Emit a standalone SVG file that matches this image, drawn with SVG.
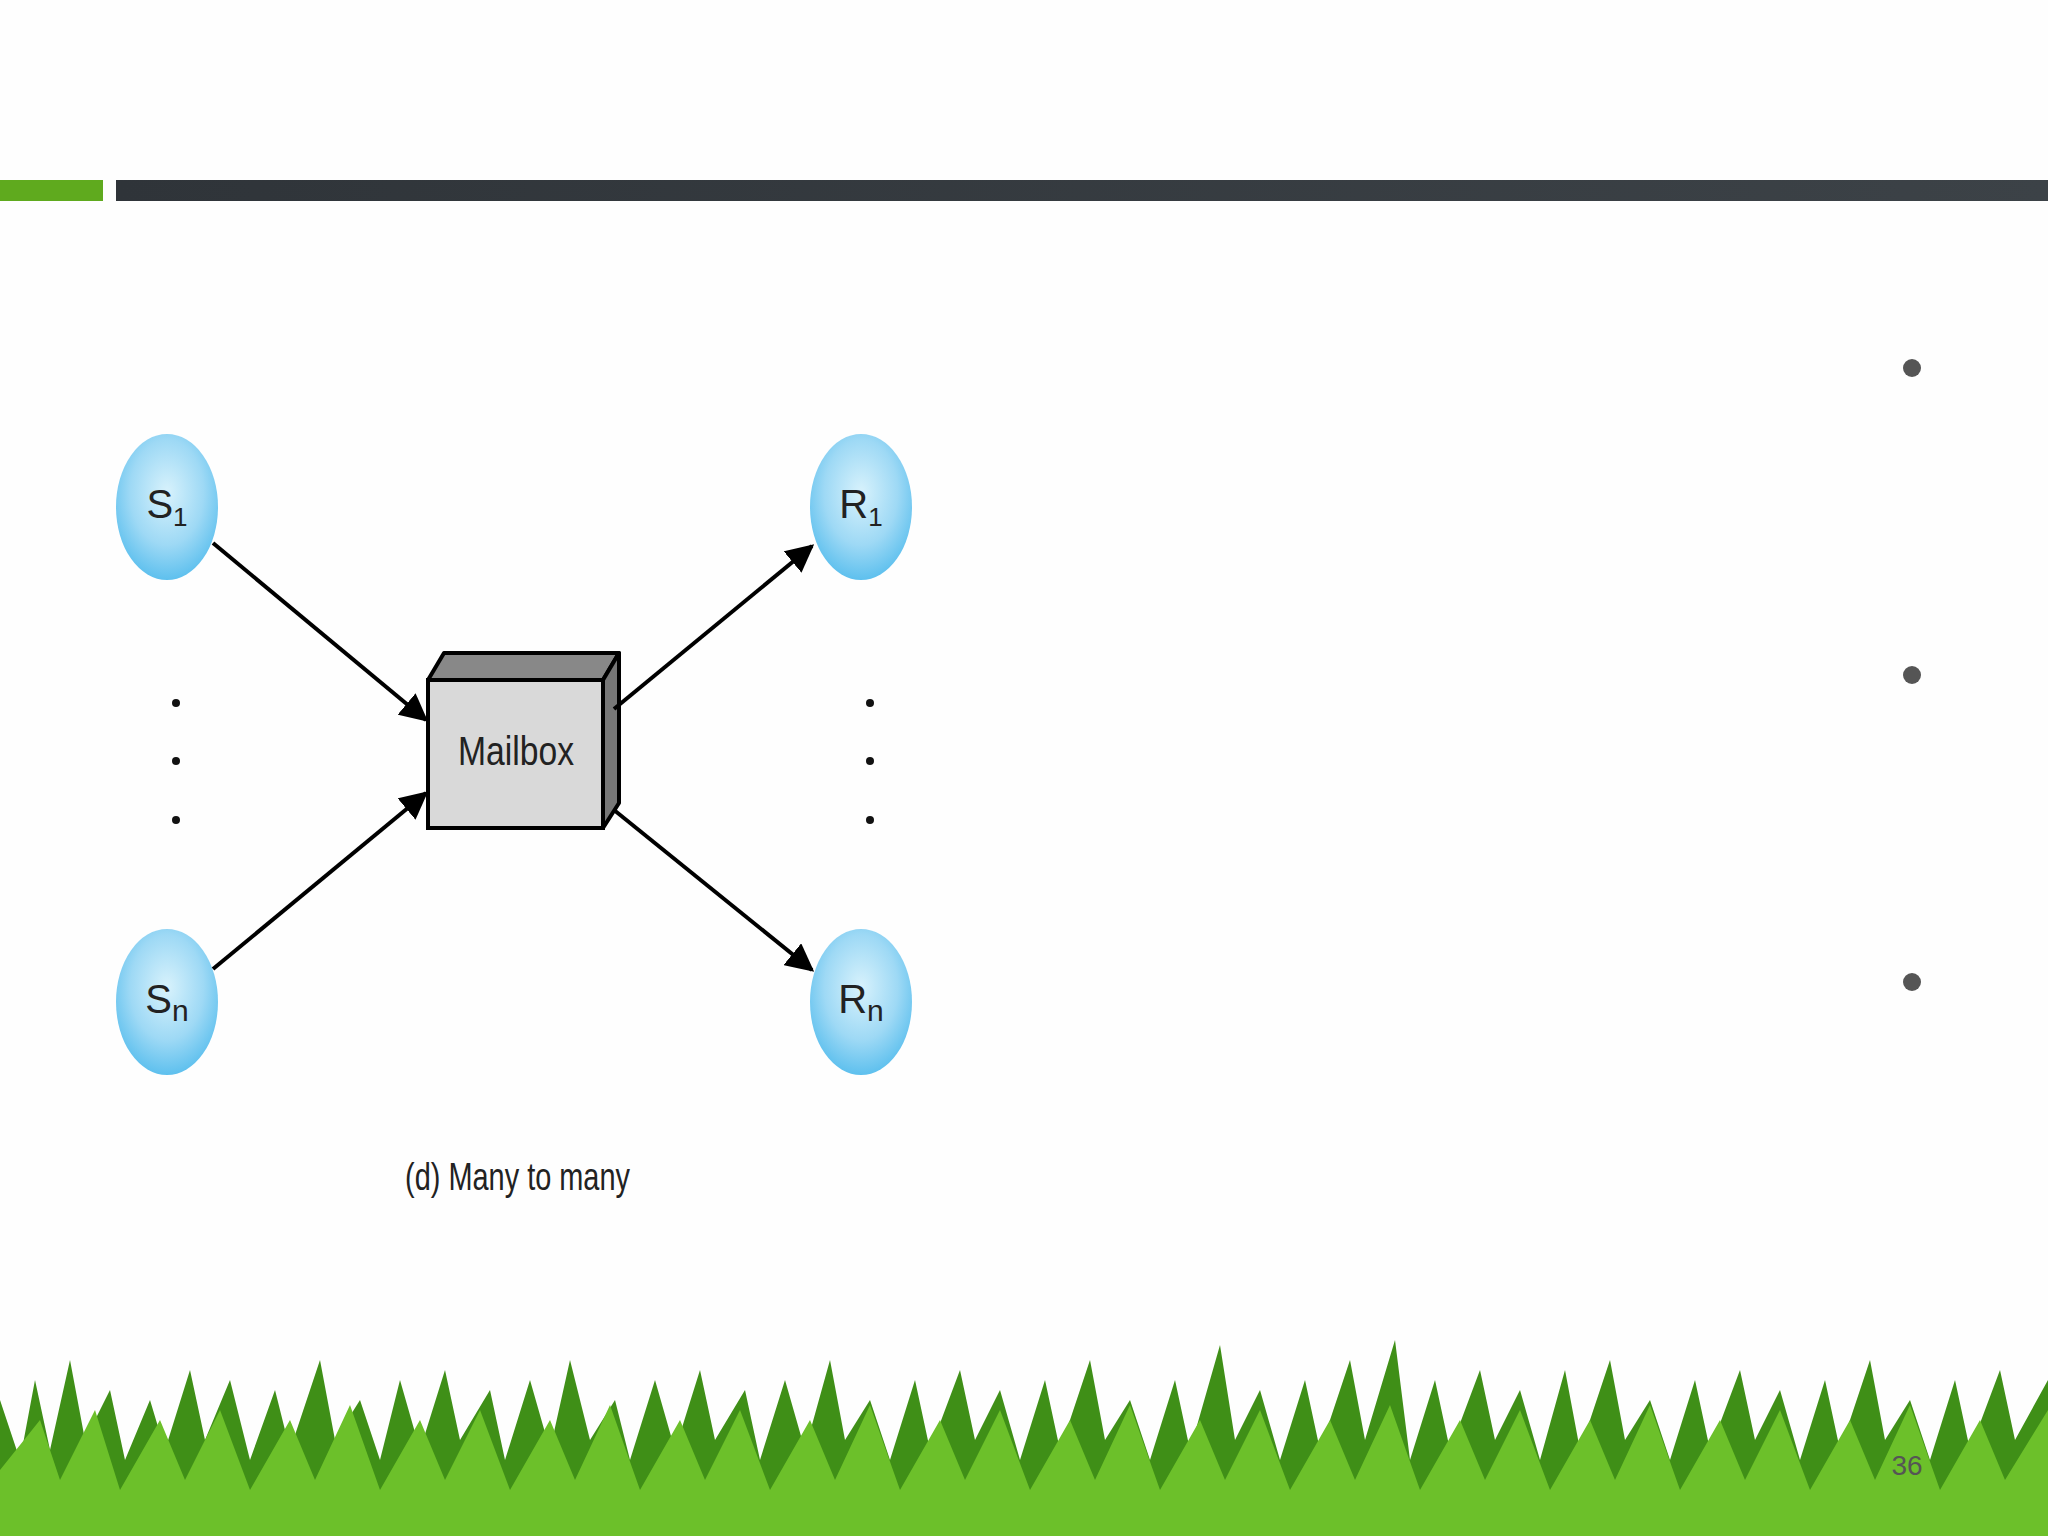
<svg xmlns="http://www.w3.org/2000/svg" width="2048" height="1536" viewBox="0 0 2048 1536">
<defs>
<radialGradient id="ball" cx="0.5" cy="0.4" r="0.6">
<stop offset="0" stop-color="#d8f2fc"/><stop offset="0.6" stop-color="#9ed9f5"/><stop offset="1" stop-color="#5ec0ee"/>
</radialGradient>
<linearGradient id="bar" x1="0" x2="1"><stop offset="0" stop-color="#2f3439"/><stop offset="1" stop-color="#3c4247"/></linearGradient>
<marker id="ah" viewBox="0 0 10 10" refX="9" refY="5" markerWidth="7" markerHeight="7" orient="auto" markerUnits="strokeWidth"><path d="M0,0 L10,5 L0,10 z" fill="#000"/></marker>
<style>
.conn{stroke:#000;stroke-width:4;fill:none;marker-end:url(#ah)}
.lbl{font-family:"Liberation Sans Narrow","Liberation Sans",sans-serif;fill:#222}
.dot{fill:#111}
</style>
</defs>
<rect width="2048" height="1536" fill="#fefefe"/>
<rect x="0" y="180" width="103" height="21" fill="#5faa1e"/>
<rect x="116" y="180" width="1932" height="21" fill="url(#bar)"/>
<g id="S1"><ellipse cx="167" cy="507" rx="51" ry="73" fill="url(#ball)"/><text class="lbl" x="167" y="518" font-size="40" text-anchor="middle">S<tspan font-size="26" dy="8">1</tspan></text></g>
<g id="Sn"><ellipse cx="167" cy="1002" rx="51" ry="73" fill="url(#ball)"/><text class="lbl" x="167" y="1013" font-size="40" text-anchor="middle">S<tspan font-size="30" dy="8">n</tspan></text></g>
<g id="R1"><ellipse cx="861" cy="507" rx="51" ry="73" fill="url(#ball)"/><text class="lbl" x="861" y="518" font-size="40" text-anchor="middle">R<tspan font-size="26" dy="8">1</tspan></text></g>
<g id="Rn"><ellipse cx="861" cy="1002" rx="51" ry="73" fill="url(#ball)"/><text class="lbl" x="861" y="1013" font-size="40" text-anchor="middle">R<tspan font-size="30" dy="8">n</tspan></text></g>
<g id="Mailbox">
<polygon points="428,680 444,653 619,653 603,680" fill="#888" stroke="#000" stroke-width="4" stroke-linejoin="round"/>
<polygon points="603,680 619,653 619,803 603,828" fill="#777" stroke="#000" stroke-width="4" stroke-linejoin="round"/>
<rect x="428" y="680" width="175" height="148" fill="#d9d9d9" stroke="#000" stroke-width="4"/>
<text class="lbl" x="458" y="765" font-size="40" textLength="116" lengthAdjust="spacingAndGlyphs">Mailbox</text>
</g>
<g id="connectors">
<line class="conn" x1="213" y1="543" x2="426" y2="720"/>
<line class="conn" x1="213" y1="969" x2="426" y2="793"/>
<line class="conn" x1="614" y1="709" x2="812" y2="546"/>
<line class="conn" x1="614" y1="810" x2="812" y2="970"/>
</g>
<g id="dots">
<circle class="dot" cx="176" cy="703" r="4"/><circle class="dot" cx="176" cy="761" r="4"/><circle class="dot" cx="176" cy="820" r="4"/>
<circle class="dot" cx="870" cy="703" r="4"/><circle class="dot" cx="870" cy="761" r="4"/><circle class="dot" cx="870" cy="820" r="4"/>
</g>
<text class="lbl" x="405" y="1190" font-size="38" textLength="225" lengthAdjust="spacingAndGlyphs">(d) Many to many</text>
<g fill="#555"><circle cx="1912" cy="368" r="9"/><circle cx="1912" cy="675" r="9"/><circle cx="1912" cy="982" r="9"/></g>
<g id="grass">
<path fill="#3f8f17" d="M0,1536 L0,1400 L20,1460 L35,1380 L50,1450 L70,1360 L85,1440 L110,1390 L125,1460 L150,1400 L165,1450 L190,1370 L205,1440 L230,1380 L250,1460 L275,1390 L290,1450 L320,1360 L335,1440 L360,1400 L380,1460 L400,1380 L420,1450 L445,1370 L460,1440 L490,1390 L505,1460 L530,1380 L550,1450 L570,1360 L590,1440 L615,1400 L630,1460 L655,1380 L675,1450 L700,1370 L715,1440 L745,1390 L760,1460 L785,1380 L805,1450 L830,1360 L845,1440 L870,1400 L890,1460 L915,1380 L930,1450 L960,1370 L975,1440 L1000,1390 L1020,1460 L1045,1380 L1060,1450 L1090,1360 L1105,1440 L1130,1400 L1150,1460 L1175,1380 L1190,1450 L1220,1345 L1235,1440 L1260,1390 L1280,1460 L1305,1380 L1320,1450 L1350,1360 L1365,1440 L1395,1340 L1410,1460 L1435,1380 L1450,1450 L1480,1370 L1495,1440 L1520,1390 L1540,1460 L1565,1370 L1580,1450 L1610,1360 L1625,1440 L1650,1400 L1670,1460 L1695,1380 L1710,1450 L1740,1370 L1755,1440 L1780,1390 L1800,1460 L1825,1380 L1840,1450 L1870,1360 L1885,1440 L1910,1400 L1930,1460 L1955,1380 L1970,1450 L2000,1370 L2015,1440 L2048,1380 L2048,1536 Z"/>
<path fill="#6cc02a" d="M0,1536 L0,1470 L40,1420 L60,1480 L95,1410 L120,1490 L160,1420 L185,1480 L220,1410 L250,1490 L290,1420 L315,1480 L350,1405 L380,1490 L420,1420 L445,1480 L480,1410 L510,1490 L550,1420 L575,1480 L610,1405 L640,1490 L680,1420 L705,1480 L740,1410 L770,1490 L810,1420 L835,1480 L870,1405 L900,1490 L940,1420 L965,1480 L1000,1410 L1030,1490 L1070,1420 L1095,1480 L1130,1405 L1160,1490 L1200,1420 L1225,1480 L1260,1410 L1290,1490 L1330,1420 L1355,1480 L1390,1405 L1420,1490 L1460,1420 L1485,1480 L1520,1410 L1550,1490 L1590,1420 L1615,1480 L1650,1405 L1680,1490 L1720,1420 L1745,1480 L1780,1410 L1810,1490 L1850,1420 L1875,1480 L1910,1405 L1940,1490 L1980,1420 L2005,1480 L2048,1410 L2048,1536 Z"/>
</g>
<text x="1907" y="1475" font-family="Liberation Sans,sans-serif" font-size="28" fill="#555" text-anchor="middle">36</text>
</svg>
